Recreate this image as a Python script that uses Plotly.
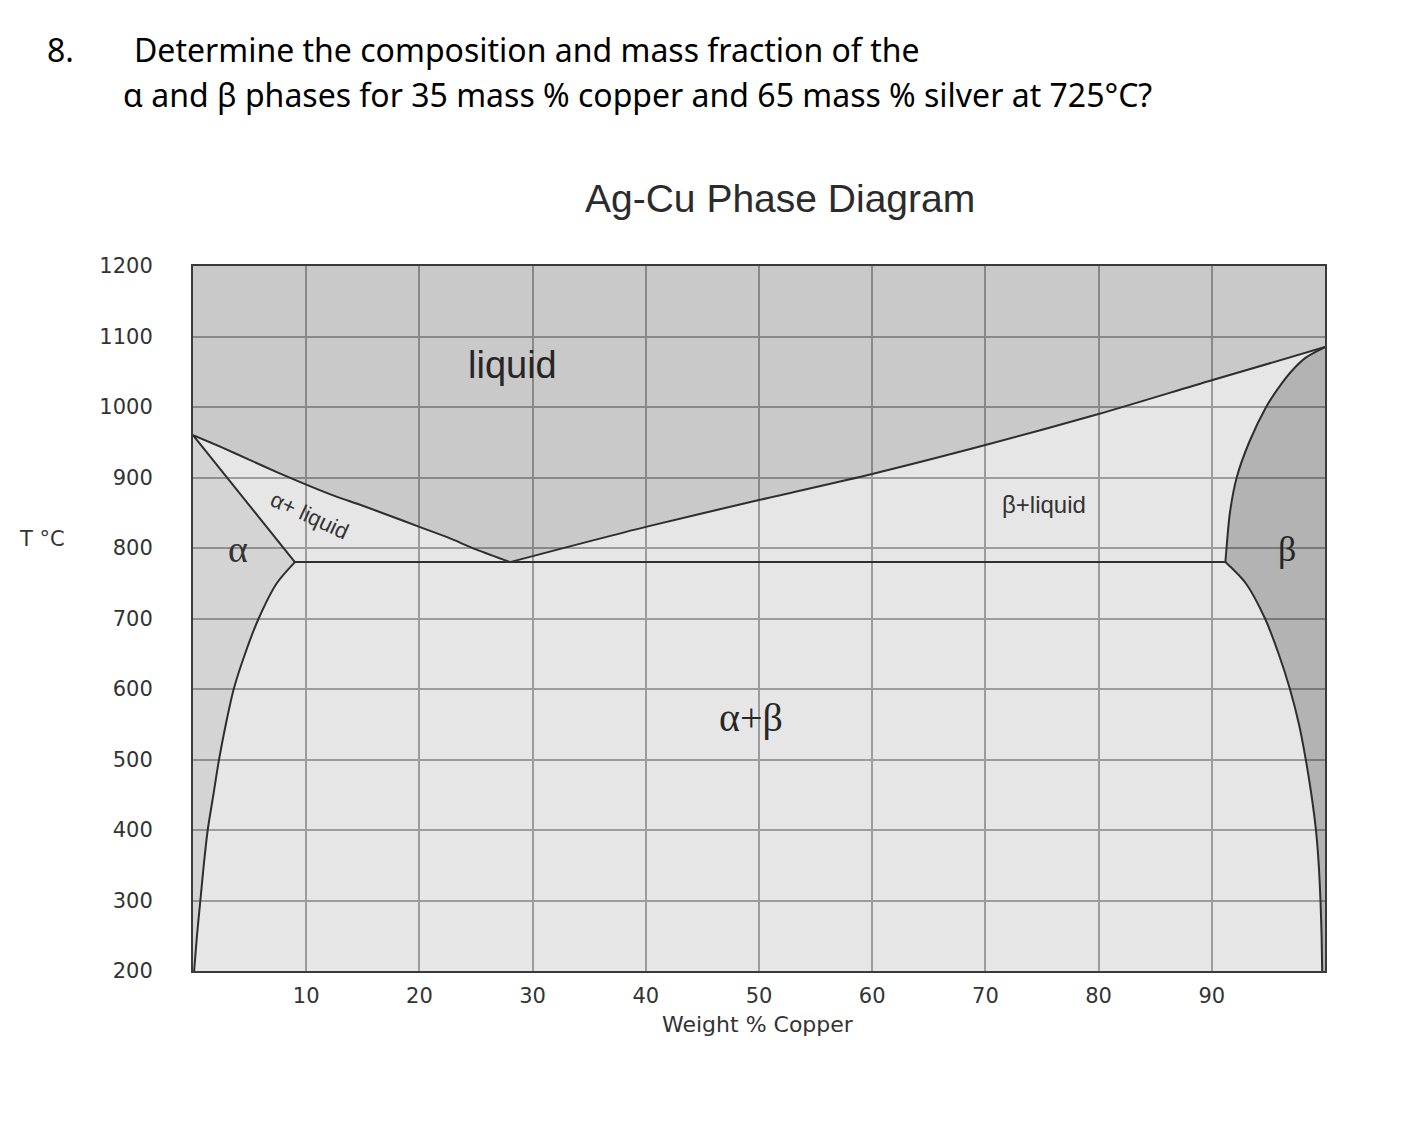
import plotly.graph_objects as go

# ---------------- data ----------------
x_ticks = [10, 20, 30, 40, 50, 60, 70, 80, 90]
y_ticks = [200, 300, 400, 500, 600, 700, 800, 900, 1000, 1100, 1200]

# liquidus, Ag-rich side (wt% Cu, T)
liq_left_x = [0, 2.5, 5, 7.5, 10, 12.5, 15, 17.5, 20, 22.5, 25, 28]
liq_left_T = [960, 943, 925, 907, 890, 874, 860, 845, 830, 815, 798, 780]
# liquidus, Cu-rich side
liq_right_x = [28, 40, 50, 60, 70, 80, 90, 100]
liq_right_T = [780, 830, 868, 905, 946, 990, 1038, 1085]
# alpha solidus
sol_a_x = [0, 9]
sol_a_T = [960, 780]
# alpha solvus
solv_a_x = [9.0, 7.4, 5.8, 4.6, 3.6, 2.9, 2.3, 1.8, 1.3, 0.95, 0.65, 0.35, 0.1]
solv_a_T = [780, 750, 700, 650, 600, 550, 500, 450, 400, 350, 300, 250, 200]
# beta solidus
sol_b_x = [100, 98.3, 97.0, 95.8, 94.8, 93.3, 92.2, 91.6, 91.3, 91.2]
sol_b_T = [1085, 1070, 1050, 1025, 1000, 950, 900, 850, 800, 780]
# beta solvus
solv_b_x = [91.2, 93.0, 94.7, 95.9, 96.9, 97.7, 98.3, 98.8, 99.2, 99.45, 99.6, 99.7, 99.75]
solv_b_T = [780, 750, 700, 650, 600, 550, 500, 450, 400, 350, 300, 250, 200]
# eutectic isotherm
eut_x = [9, 91.2]
eut_T = [780, 780]

X_MIN, X_MAX = 0, 100
T_MIN, T_MAX = 200, 1200

fig = go.Figure()

# liquid region
liq_poly_x = [X_MIN] + liq_left_x + liq_right_x[1:] + [X_MAX, X_MIN]
liq_poly_T = [T_MAX] + liq_left_T + liq_right_T[1:] + [T_MAX, T_MAX]
fig.add_trace(go.Scatter(x=liq_poly_x, y=liq_poly_T, fill="toself", mode="none",
                         fillcolor="rgba(0,0,0,0.125)", hoverinfo="skip"))
# alpha region
a_poly_x = sol_a_x + solv_a_x[1:] + [X_MIN]
a_poly_T = sol_a_T + solv_a_T[1:] + [T_MIN]
fig.add_trace(go.Scatter(x=a_poly_x, y=a_poly_T, fill="toself", mode="none",
                         fillcolor="rgba(0,0,0,0.075)", hoverinfo="skip"))
# beta region
b_poly_x = sol_b_x + solv_b_x[1:] + [X_MAX]
b_poly_T = sol_b_T + solv_b_T[1:] + [T_MIN]
fig.add_trace(go.Scatter(x=b_poly_x, y=b_poly_T, fill="toself", mode="none",
                         fillcolor="rgba(0,0,0,0.22)", hoverinfo="skip"))

# boundaries
for xs, ts, shape in [(liq_left_x, liq_left_T, "spline"), (liq_right_x, liq_right_T, "spline"),
                      (sol_a_x, sol_a_T, "linear"), (solv_a_x, solv_a_T, "spline"),
                      (sol_b_x, sol_b_T, "spline"), (solv_b_x, solv_b_T, "spline"),
                      (eut_x, eut_T, "linear")]:
    fig.add_trace(go.Scatter(x=xs, y=ts, mode="lines",
                             line=dict(color="#2e2e2e", width=2, shape=shape, smoothing=0.8),
                             hoverinfo="skip"))

SANS = "Liberation Sans, Arial, sans-serif"
WIDE = "DejaVu Sans, Verdana, sans-serif"
SERIF = "Liberation Serif, Times New Roman, serif"

# region labels
fig.add_annotation(x=28.2, y=1060, text="liquid", showarrow=False,
                   font=dict(family=SANS, size=38, color="#262626"))
fig.add_annotation(x=10.3, y=846, text="α+ liquid", showarrow=False, textangle=25,
                   font=dict(family=SANS, size=22, color="#333333"))
fig.add_annotation(x=4.0, y=798, text="α", showarrow=False,
                   font=dict(family=SERIF, size=38, color="#333333"))
fig.add_annotation(x=75.2, y=862, text="β+liquid", showarrow=False,
                   font=dict(family=SANS, size=24, color="#333333"))
fig.add_annotation(x=96.6, y=798, text="β", showarrow=False,
                   font=dict(family=SERIF, size=36, color="#262626"))
fig.add_annotation(x=49.3, y=559, text="α+β", showarrow=False,
                   font=dict(family=SERIF, size=40, color="#262626"))

# chart title and axis titles
fig.add_annotation(xref="paper", yref="paper", x=0.5186, y=1.0963, xanchor="center", yanchor="middle",
                   text="Ag-Cu Phase Diagram", showarrow=False,
                   font=dict(family=SANS, size=39, color="#2b2b2b"))
fig.add_annotation(xref="paper", yref="paper", x=-0.1334, y=0.613, xanchor="center", yanchor="middle",
                   text="T °C", showarrow=False, font=dict(family=WIDE, size=21, color="#333333"))
fig.add_annotation(xref="paper", yref="paper", x=0.499, y=-0.0765, xanchor="center", yanchor="middle",
                   text="Weight % Copper", showarrow=False,
                   font=dict(family=WIDE, size=22, color="#333333"))

# question text
QF = dict(family="Noto Sans, Open Sans, sans-serif", size=32, color="#000000")
fig.add_annotation(xref="paper", yref="paper", x=-0.131, y=1.307, xanchor="left", yanchor="middle",
                   text="8.", showarrow=False, font=QF)
fig.add_annotation(xref="paper", yref="paper", x=-0.054, y=1.307, xanchor="left", yanchor="middle",
                   text="Determine the composition and mass fraction of the", showarrow=False, font=QF)
fig.add_annotation(xref="paper", yref="paper", x=-0.064, y=1.2436, xanchor="left", yanchor="middle",
                   text="α and β phases for 35 mass % copper and 65 mass % silver at 725°C?",
                   showarrow=False, font=QF)

GRID = "#9c9c9c"
fig.update_xaxes(range=[X_MIN, X_MAX], tickvals=x_ticks, ticktext=[str(v) for v in x_ticks],
                 showgrid=True, gridcolor=GRID, gridwidth=1.5, zeroline=False,
                 showline=True, linecolor="#3a3a3a", linewidth=2, mirror=True,
                 ticks="outside", ticklen=5, tickcolor="rgba(0,0,0,0)",
                 tickfont=dict(family=WIDE, size=21, color="#333333"))
fig.update_yaxes(range=[T_MIN, T_MAX], tickvals=y_ticks, ticktext=[str(v) for v in y_ticks],
                 showgrid=True, gridcolor=GRID, gridwidth=1.5, zeroline=False,
                 showline=True, linecolor="#3a3a3a", linewidth=2, mirror=True,
                 ticks="outside", ticklen=34, tickcolor="rgba(0,0,0,0)",
                 tickfont=dict(family=WIDE, size=21, color="#333333"))

fig.update_layout(width=1402, height=1122, showlegend=False,
                  margin=dict(l=193, r=77, t=266, b=151),
                  plot_bgcolor="#e6e6e6", paper_bgcolor="white")

fig.write_html("out.html")
